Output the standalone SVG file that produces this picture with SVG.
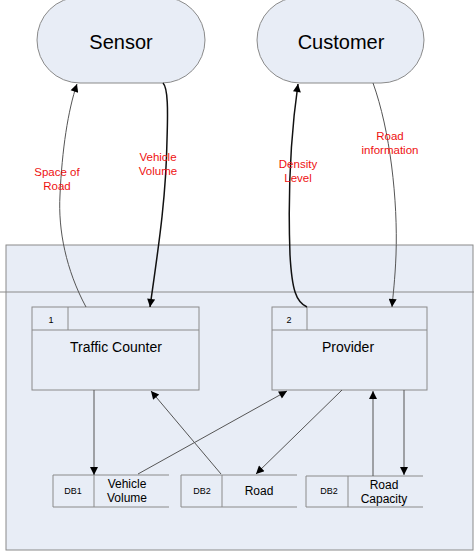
<svg xmlns="http://www.w3.org/2000/svg" width="474" height="551" viewBox="0 0 474 551">
<style>
.shape{fill:#e8edf6;stroke:#8a8a8a;stroke-width:1}
.ln{fill:none;stroke:#8a8a8a;stroke-width:1}
.t{font-family:"Liberation Sans",Arial,sans-serif;fill:#000;text-anchor:middle}
.lbl{font-family:"Liberation Sans",Arial,sans-serif;fill:#ee1111;font-size:11.5px;text-anchor:middle}
.c{fill:none;stroke:#555;stroke-width:1}
.ck{fill:none;stroke:#111;stroke-width:1.5}
</style>
<defs>
<marker id="ah" viewBox="0 0 10 10" refX="10" refY="5" markerWidth="10" markerHeight="8" markerUnits="userSpaceOnUse" orient="auto">
<path d="M0,0 L10,5 L0,10 z" fill="#000"/>
</marker>
</defs>
<rect width="474" height="551" fill="#fff"/>
<g id="container">
<rect class="shape" x="6" y="245" width="467" height="305"/>
<line class="ln" x1="0" y1="292" x2="474" y2="292"/>
</g>
<g id="sensor">
<rect class="shape" x="37" y="-3" width="168" height="86" rx="43" ry="43"/>
<text class="t" x="121" y="49" font-size="20">Sensor</text>
</g>
<g id="customer">
<rect class="shape" x="257" y="-3" width="167" height="86" rx="43" ry="43"/>
<text class="t" x="341" y="49" font-size="20">Customer</text>
</g>
<g id="p1">
<rect class="shape" x="32" y="307" width="167" height="83"/>
<line class="ln" x1="32" y1="330" x2="199" y2="330"/>
<line class="ln" x1="68" y1="307" x2="68" y2="330"/>
<text class="t" x="51" y="323" font-size="9">1</text>
<text class="t" x="116" y="352" font-size="14">Traffic Counter</text>
</g>
<g id="p2">
<rect class="shape" x="272" y="307" width="155" height="83"/>
<line class="ln" x1="272" y1="330" x2="427" y2="330"/>
<line class="ln" x1="307" y1="307" x2="307" y2="330"/>
<text class="t" x="289" y="323" font-size="9">2</text>
<text class="t" x="348" y="352" font-size="14">Provider</text>
</g>
<g id="db1">
<path class="ln" d="M169,475 H53 V507 H169 M94,475 V507"/>
<text class="t" x="73" y="494" font-size="9">DB1</text>
<text class="t" x="127" y="488" font-size="12">Vehicle</text>
<text class="t" x="127" y="502" font-size="12">Volume</text>
</g>
<g id="db2">
<path class="ln" d="M297,475 H181 V507 H297 M222,475 V507"/>
<text class="t" x="202" y="494" font-size="9">DB2</text>
<text class="t" x="259" y="495" font-size="12">Road</text>
</g>
<g id="db3">
<path class="ln" d="M423,476 H306 V507 H423 M348,476 V507"/>
<text class="t" x="329" y="494" font-size="9">DB2</text>
<text class="t" x="384" y="489" font-size="12">Road</text>
<text class="t" x="384" y="503" font-size="12">Capacity</text>
</g>
<g id="connectors">
<path class="c" d="M86,307 C66,270 58,230 60,195 C62,150 68,110 77,84" marker-end="url(#ah)"/>
<path class="ck" d="M163,83 C168,88 168,110 167,140 C166,200 158,250 150,307" marker-end="url(#ah)"/>
<path class="ck" d="M307,307 C296,302 292,290 290,255 C288,200 290,140 298,84" marker-end="url(#ah)"/>
<path class="c" d="M373,83 C390,130 398,200 396,255 C395,280 393,295 392,307" marker-end="url(#ah)"/>
<line class="c" x1="94" y1="390" x2="94" y2="475" marker-end="url(#ah)"/>
<line class="c" x1="221" y1="474" x2="151" y2="391" marker-end="url(#ah)"/>
<line class="c" x1="138" y1="474" x2="287" y2="391" marker-end="url(#ah)"/>
<line class="c" x1="342" y1="390" x2="256" y2="474" marker-end="url(#ah)"/>
<line class="c" x1="373" y1="476" x2="373" y2="391" marker-end="url(#ah)"/>
<line class="c" x1="404" y1="390" x2="404" y2="475" marker-end="url(#ah)"/>
</g>
<g id="labels">
<text class="lbl" x="57" y="176">Space of</text>
<text class="lbl" x="57" y="190">Road</text>
<text class="lbl" x="158" y="161">Vehicle</text>
<text class="lbl" x="158" y="175">Volume</text>
<text class="lbl" x="298" y="168">Density</text>
<text class="lbl" x="298" y="182">Level</text>
<text class="lbl" x="390" y="140">Road</text>
<text class="lbl" x="390" y="154">information</text>
</g>
</svg>
